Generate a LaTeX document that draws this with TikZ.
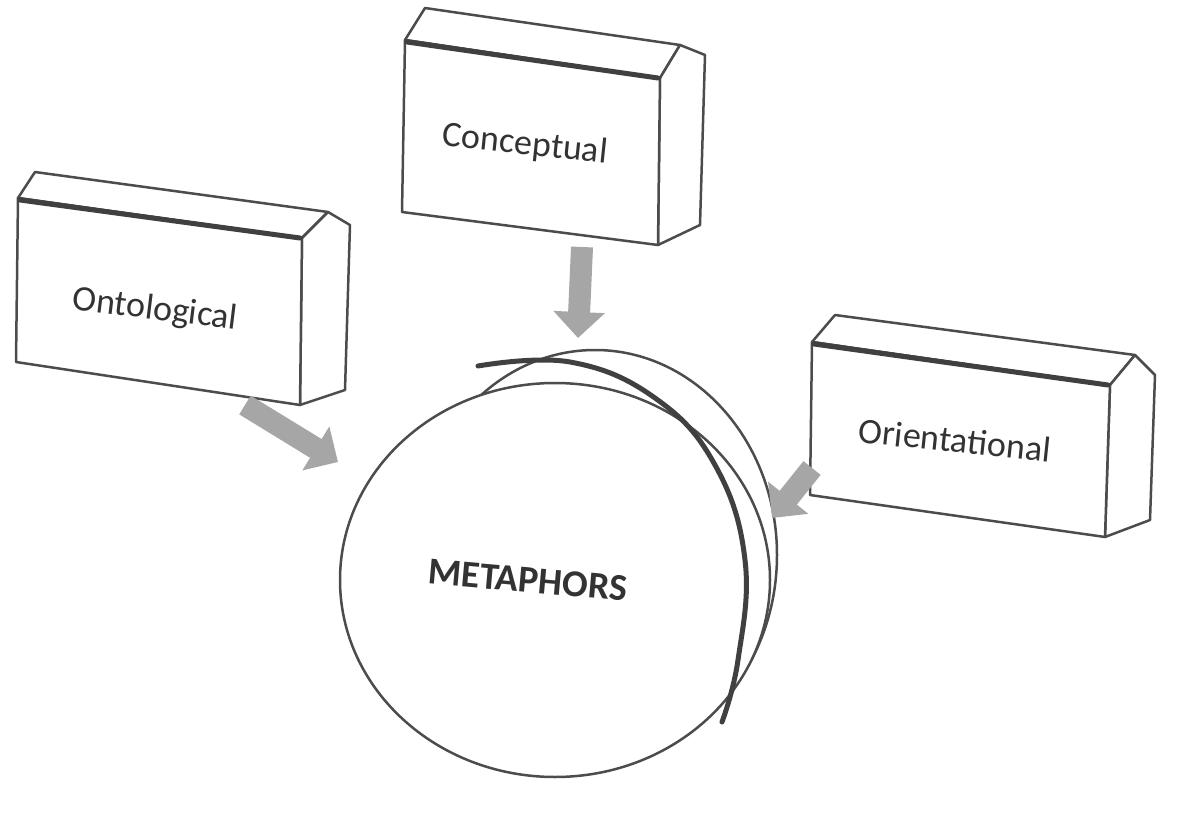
\documentclass[tikz,border=0pt]{standalone}
\usepackage{fontspec}
\setmainfont{Carlito}
\usetikzlibrary{arrows.meta}
\tikzset{
 face/.style={fill=white,draw=black!70,line width=2.5pt,line join=round},
 edge/.style={draw=black!75,line width=5pt,line cap=round},
 lbl/.style={font=\fontsize{36}{40}\selectfont,text=black!80},
 blockarrow/.style={draw=black!35,line width=22pt,-{Triangle[length=26pt,width=50pt]}}
}
\begin{document}
\begin{tikzpicture}[x=1pt,y=-1pt]
\useasboundingbox (0,0) rectangle (1191,832);
% disk
\draw[face] (595,555) ellipse (182 and 205);
\draw[face] (555,580) ellipse (215 and 197);
\draw[black!75,line width=5pt,line cap=round] plot[smooth,tension=0.7] coordinates {(478,366) (570,362) (655,398) (715,465) (745,560) (738,660) (722,722)};
\node[lbl,font=\bfseries\fontsize{38}{40}\selectfont,rotate=-5] (met) at (528,580) {METAPHORS};
% Ontological box
\draw[face] (18,198) -- (35,172) -- (328,212) -- (302,238) -- cycle;
\draw[face] (302,238) -- (328,212) -- (350,225) -- (345,390) -- (300,405) -- cycle;
\draw[face] (18,198) -- (302,238) -- (300,405) -- (16,362) -- cycle;
\draw[edge] (20,200) -- (300,238);
\node[lbl,rotate=-7] (ont) at (155,310) {Ontological};
% Conceptual box
\draw[face] (405,40) -- (425,8) -- (680,45) -- (660,78) -- cycle;
\draw[face] (660,78) -- (680,45) -- (705,55) -- (700,225) -- (658,245) -- cycle;
\draw[face] (405,40) -- (660,78) -- (658,245) -- (402,212) -- cycle;
\draw[edge] (407,42) -- (658,78);
\node[lbl,rotate=-6] (con) at (525,145) {Conceptual};
% Orientational box
\draw[face] (812,342) -- (835,315) -- (1135,355) -- (1110,385) -- cycle;
\draw[face] (1110,385) -- (1135,355) -- (1155,375) -- (1150,520) -- (1105,537) -- cycle;
\draw[face] (812,342) -- (1110,385) -- (1105,537) -- (810,495) -- cycle;
\draw[edge] (814,344) -- (1108,385);
\node[lbl,rotate=-6] (ori) at (955,440) {Orientational};
% arrows
\coordinate (c1) at (582,247); \coordinate (c2) at (578,338);
\draw[blockarrow] (c1) -- (c2);
\coordinate (o1) at (245,405); \coordinate (o2) at (338,462);
\draw[blockarrow] (o1) -- (o2);
\coordinate (r1) at (812,468); \coordinate (r2) at (772,518);
\draw[blockarrow] (r1) -- (r2);
\end{tikzpicture}
\end{document}
